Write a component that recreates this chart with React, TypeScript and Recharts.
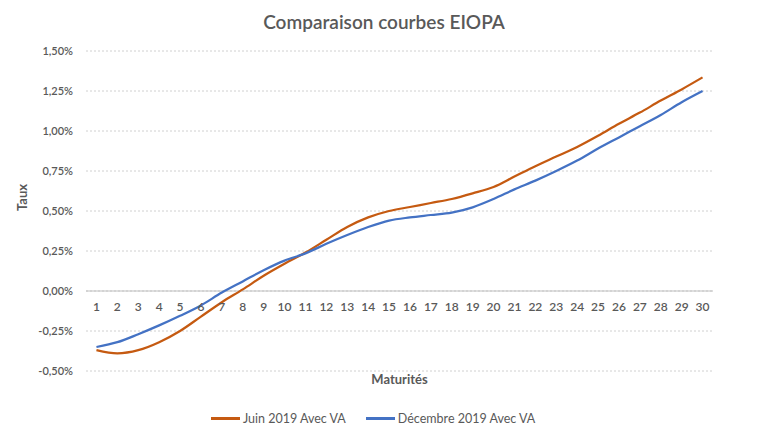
import React from 'react';
import { LineChart, Line, XAxis, YAxis, CartesianGrid, ReferenceLine } from 'recharts';

const maturities = [
  1, 2, 3, 4, 5, 6, 7, 8, 9, 10, 11, 12, 13, 14, 15,
  16, 17, 18, 19, 20, 21, 22, 23, 24, 25, 26, 27, 28, 29, 30,
];

// taux en %
const juin2019 = [
  -0.37, -0.39, -0.37, -0.32, -0.25, -0.16, -0.07, 0.01, 0.095, 0.17,
  0.24, 0.32, 0.4, 0.46, 0.5, 0.525, 0.55, 0.575, 0.61, 0.65,
  0.715, 0.78, 0.84, 0.9, 0.97, 1.045, 1.115, 1.19, 1.26, 1.335,
];

const decembre2019 = [
  -0.35, -0.32, -0.27, -0.215, -0.155, -0.09, -0.01, 0.06, 0.13, 0.19,
  0.235, 0.295, 0.35, 0.4, 0.44, 0.46, 0.475, 0.49, 0.523, 0.575,
  0.635, 0.69, 0.75, 0.815, 0.89, 0.96, 1.03, 1.1, 1.18, 1.25,
];

const yTicks = [-0.5, -0.25, 0, 0.25, 0.5, 0.75, 1, 1.25, 1.5];

const seriesNames = ['Juin 2019 Avec VA', 'Décembre 2019 Avec VA'];
const colors = ['#C55A11', '#4472C4'];

const data = maturities.map((m, i) => ({
  maturite: m,
  juin: juin2019[i],
  decembre: decembre2019[i],
}));

const FONT = 'Lato, "Open Sans", sans-serif';
const GREY = '#595959';

const fmtPct = (v: number) => v.toFixed(2).replace('.', ',') + '%';

// x labels sit just under the 0% line instead of at the bottom of the plot
const XTick = (props: any) => {
  const { x, y, payload } = props;
  return (
    <text x={x} y={y - 80 + 20} textAnchor="middle" fill={GREY} fontSize={12} fontFamily={FONT} fontWeight={600}>
      {payload.value}
    </text>
  );
};

export default function App() {
  return (
    <div style={{ position: 'absolute', left: 0, top: 0, width: 768, height: 435, background: '#fff', fontFamily: FONT }}>
      <div style={{ position: 'absolute', top: 10, left: 0, width: 768, textAlign: 'center', fontSize: 19, color: GREY, fontWeight: 600 }}>
        Comparaison courbes EIOPA
      </div>
      <LineChart width={768} height={435} data={data} margin={{ top: 51, right: 55, bottom: 0, left: 16 }}>
        <CartesianGrid vertical={false} stroke="#d0d0d0" strokeDasharray="2 2" />
        <XAxis
          dataKey="maturite"
          axisLine={false}
          tickLine={false}
          tickSize={0}
          tickMargin={0}
          height={64}
          interval={0}
          padding={{ left: 10.45, right: 10.45 }}
          tick={<XTick />}
          label={{ value: 'Maturités', position: 'insideTop', offset: 4, fill: GREY, fontSize: 13, fontWeight: 700, fontFamily: FONT }}
        />
        <YAxis
          type="number"
          domain={[-0.5, 1.5]}
          ticks={yTicks}
          width={70}
          axisLine={false}
          tickLine={false}
          tickSize={0}
          tickMargin={13}
          tickFormatter={fmtPct}
          tick={{ fill: GREY, fontSize: 11, fontWeight: 600, fontFamily: FONT }}
          label={{ value: 'Taux', angle: -90, position: 'insideLeft', offset: 6, fill: GREY, fontSize: 13, fontWeight: 700, fontFamily: FONT }}
        />
        <ReferenceLine y={0} stroke="#bfbfbf" strokeWidth={1} />
        <Line type="monotone" dataKey="juin" name={seriesNames[0]} stroke={colors[0]} strokeWidth={2.25} dot={false} isAnimationActive={false} />
        <Line type="monotone" dataKey="decembre" name={seriesNames[1]} stroke={colors[1]} strokeWidth={2.25} dot={false} isAnimationActive={false} />
      </LineChart>
      <div style={{ position: 'absolute', top: 411, left: 211, display: 'flex', alignItems: 'center', fontSize: 12.5, color: GREY }}>
        {seriesNames.map((n, i) => (
          <div key={n} style={{ display: 'flex', alignItems: 'center', marginRight: 20 }}>
            <span style={{ display: 'inline-block', width: 29, height: 2.5, background: colors[i], marginRight: 3 }} />
            <span>{n}</span>
          </div>
        ))}
      </div>
    </div>
  );
}
